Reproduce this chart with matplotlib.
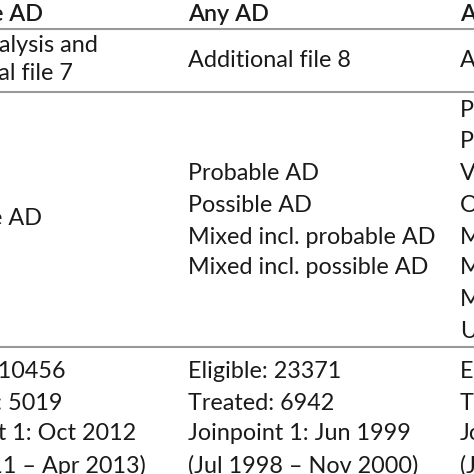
import matplotlib
matplotlib.use("Agg")
import matplotlib.pyplot as plt

W = H = 474
header = [("Probable AD", 43, "right"), ("Any AD", 188, "left"), ("All AD", 460, "left")]
col1_rows = [("Sensitivity analysis and", 98, 45), ("Additional file 7", 73, 73),
             ("Probable AD", 42, 218),
             ("Eligible: 10456", 66, 371), ("Treated: 5019", 62, 403),
             ("Joinpoint 1: Oct 2012", 136, 434), ("(Nov 2011 – Apr 2013)", 146, 466)]
col2_rows = [("Additional file 8", 60), ("Probable AD", 173), ("Possible AD", 205),
             ("Mixed incl. probable AD", 237), ("Mixed incl. possible AD", 268),
             ("Eligible: 23371", 371), ("Treated: 6942", 403),
             ("Joinpoint 1: Jun 1999", 434), ("(Jul 1998 – Nov 2000)", 466)]
col3_rows = [("Additional file 9", 60), ("Probable AD", 110), ("Possible AD", 142),
             ("Vascular", 173), ("Other", 205), ("Mixed", 237), ("Mixed", 268),
             ("Mixed", 300), ("Unspecified", 332),
             ("Eligible", 371), ("Treated", 403), ("Joinpoint", 434), ("(Jul", 466)]
rules = [29, 92, 347]

fig = plt.figure(figsize=(W/100, H/100), dpi=100)
ax = fig.add_axes([0, 0, 1, 1])
ax.set_xlim(0, W); ax.set_ylim(H, 0); ax.axis("off")
FONT = "Lato"; FS = 16.8; C = "#1a1a1a"
for t, x, ha in header:
    ax.text(x, 14, t, ha=ha, va="center", fontsize=FS, family=FONT, weight="semibold", color=C)
for t, x, y in col1_rows:
    ax.text(x, y, t, ha="right", va="center", fontsize=FS, family=FONT, color=C)
for t, y in col2_rows:
    ax.text(188, y, t, ha="left", va="center", fontsize=FS, family=FONT, color=C)
for t, y in col3_rows:
    ax.text(460, y, t, ha="left", va="center", fontsize=FS, family=FONT, color=C)
for y in rules:
    ax.axhline(y, color="#999999", lw=1.5)
fig.savefig("out.png", dpi=100)
